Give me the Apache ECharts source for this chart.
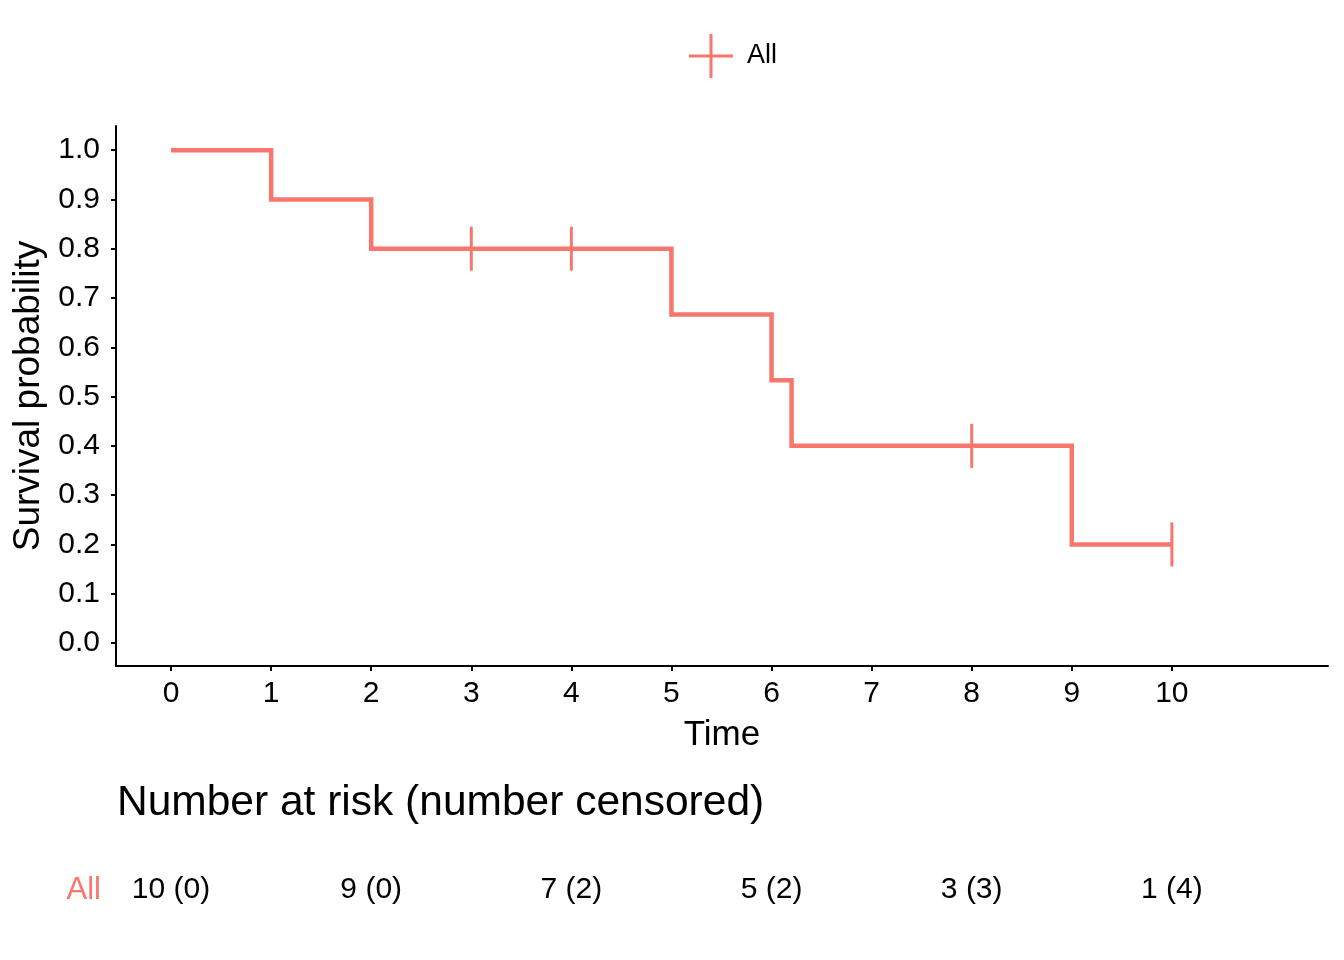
<!DOCTYPE html>
<html>
<head>
<meta charset="utf-8">
<title>Survival curve</title>
<script src="https://cdn.jsdelivr.net/npm/echarts@6/dist/echarts.min.js"></script>
<style>
  html, body { margin: 0; padding: 0; background: #fff; }
  #chart1 { width: 1344px; height: 960px; }
</style>
</head>
<body>
<div id="chart1"></div>
<script>
// Kaplan-Meier steps
var stepTimes = [0, 1, 2, 5, 6, 6.2, 9, 10];
var stepSurv = [1.0, 0.9, 0.8, 0.6667, 0.5333, 0.4, 0.2, 0.2];
// censored observations
var censorTimes = [3, 4, 8, 10];
var censorSurv = [0.8, 0.8, 0.4, 0.2];
// axis ticks
var xTicks = [0, 1, 2, 3, 4, 5, 6, 7, 8, 9, 10];
var yTicks = [0, 0.1, 0.2, 0.3, 0.4, 0.5, 0.6, 0.7, 0.8, 0.9, 1.0];
// number at risk table
var riskTimes = [0, 2, 4, 6, 8, 10];
var riskLabels = ['10 (0)', '9 (0)', '7 (2)', '5 (2)', '3 (3)', '1 (4)'];
var groupNames = ['All'];

var red = '#F8766D';
var font = 'Liberation Sans, Arial, Helvetica, sans-serif';
var plusPath = 'path://M-1.5,-22H1.5V-1.5H22V1.5H1.5V22H-1.5V1.5H-22V-1.5H-1.5Z';
var barPath = 'path://M-1.5,-22H1.5V22H-1.5Z';

var myChart1 = echarts.init(document.getElementById('chart1'));

myChart1.setOption({
    backgroundColor: '#fff',
    animation: false,
    textStyle: { fontFamily: font },
    title: {
        text: 'Number at risk (number censored)',
        left: 112,
        top: 777,
        textStyle: { fontSize: 42.5, fontWeight: 'normal', color: '#000', fontFamily: font }
    },
    legend: {
        left: 684,
        top: 29,
        itemWidth: 44,
        itemHeight: 44,
        data: [{ name: 'All', icon: plusPath }],
        textStyle: { fontSize: 27, color: '#000', fontFamily: font, padding: [0, 0, 0, 9] }
    },
    grid: [
        { left: 116, right: 16, top: 126, bottom: 294, containLabel: false },
        { left: 116, right: 16, top: 872, height: 36, containLabel: false }
    ],
    xAxis: [
        {
            type: 'value', gridIndex: 0,
            min: -0.55, max: 11.56,
            name: 'Time', nameLocation: 'middle', nameGap: 52,
            nameTextStyle: { fontSize: 35, color: '#000', fontFamily: font },
            axisLine: { show: true, onZero: false, lineStyle: { color: '#000', width: 2 } },
            axisTick: { show: true, length: 5, lineStyle: { color: '#000', width: 2 }, customValues: xTicks },
            axisLabel: { fontSize: 30, color: '#000', margin: 13, fontFamily: font, customValues: xTicks },
            splitLine: { show: false }
        },
        {
            type: 'value', gridIndex: 1,
            min: -0.55, max: 11.56,
            show: false
        }
    ],
    yAxis: [
        {
            type: 'value', gridIndex: 0,
            min: -0.0467, max: 1.049,
            name: 'Survival probability', nameLocation: 'middle', nameGap: 68, nameRotate: 90,
            nameTextStyle: { fontSize: 37, color: '#000', fontFamily: font },
            axisLine: { show: true, onZero: false, lineStyle: { color: '#000', width: 2 } },
            axisTick: { show: true, length: 5, lineStyle: { color: '#000', width: 2 }, customValues: yTicks },
            axisLabel: {
                fontSize: 30, color: '#000', margin: 16, fontFamily: font, customValues: yTicks,
                padding: [4, 0, 0, 0],
                formatter: function (v) { return v.toFixed(1); }
            },
            splitLine: { show: false }
        },
        {
            type: 'category', gridIndex: 1,
            data: groupNames,
            axisLine: { show: false },
            axisTick: { show: false },
            axisLabel: { fontSize: 31, color: red, margin: 15, fontFamily: font }
        }
    ],
    series: [
        {
            name: 'All',
            type: 'line',
            xAxisIndex: 0, yAxisIndex: 0,
            step: 'end',
            showSymbol: false,
            symbol: 'none',
            lineStyle: { color: red, width: 4.5, join: 'miter' },
            itemStyle: { color: red },
            data: stepTimes.map(function (t, i) { return [t, stepSurv[i]]; }),
            z: 2
        },
        {
            name: 'All',
            type: 'scatter',
            xAxisIndex: 0, yAxisIndex: 0,
            symbol: barPath,
            symbolSize: [3, 44],
            itemStyle: { color: red, opacity: 1 },
            data: censorTimes.map(function (t, i) { return [t, censorSurv[i]]; }),
            z: 3
        },
        {
            name: 'risk',
            type: 'scatter',
            xAxisIndex: 1, yAxisIndex: 1,
            symbolSize: 0,
            itemStyle: { opacity: 1 },
            label: {
                show: true,
                position: 'inside',
                fontSize: 30,
                color: '#000',
                fontFamily: font,
                formatter: function (p) { return riskLabels[p.dataIndex]; }
            },
            data: riskTimes.map(function (t) { return [t, 'All']; })
        }
    ]
});

window.onresize = function () {
    myChart1.resize();
};
</script>
</body>
</html>
